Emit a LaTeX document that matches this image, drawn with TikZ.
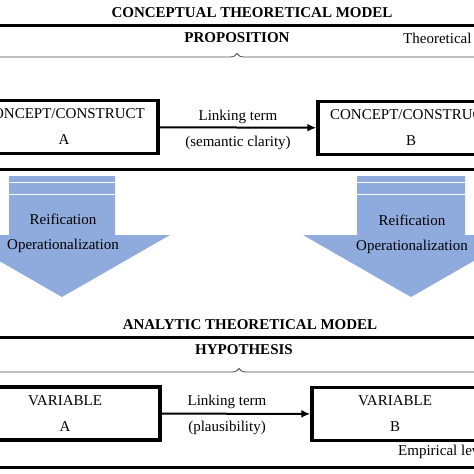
\documentclass[tikz,border=0pt]{standalone}
\usepackage{fontspec}
\setmainfont{Liberation Serif}
\usetikzlibrary{graphs}
\usetikzlibrary{arrows.meta}
\usetikzlibrary{decorations.pathreplacing}
\definecolor{arrowblue}{RGB}{143,170,220}

\begin{document}
\begin{tikzpicture}[x=1pt, y=-1pt,
            every node/.style={font=\fontsize{15}{26}\selectfont, align=center, inner sep=0pt},
            box/.style={draw, line width=3.4pt, minimum height=53},
            title/.style={font=\fontsize{15}{26}\selectfont\bfseries},
            rule/.style={line width=3pt},
            bracket/.style={line width=0.8pt, black!70, decorate, decoration={brace, amplitude=7pt}},
            stripe/.style={white, line width=0.9pt}]
            \useasboundingbox (0,0) rectangle (474,474);
            \clip (0,0) rectangle (474,474);

            % conceptual level
            \node[title] (ctitle) at (252,13) {CONCEPTUAL THEORETICAL MODEL};
            \draw[rule] (-5,25) -- (479,25);
            \node[title] (prop) at (237,38) {PROPOSITION};
            \node[anchor=west] (tlevel) at (403,38) {Theoretical level};
            \draw[bracket] (-10,60.5) -- (484,60.5);

            \node[box, minimum width=188] (ca) at (64,127) {CONCEPT/CONSTRUCT\\A};
            \node[box, minimum width=186] (cb) at (411,128) {CONCEPT/CONSTRUCT\\B};
            \node (clink) at (238,129.5) {Linking term\\(semantic clarity)};
            \draw[rule] (-5,169) -- (479,169);

            % block arrows
            \fill[arrowblue] (9,176) -- (115,176) -- (115,235) -- (170,235) -- (62,297) -- (-46,235) -- (9,235) -- cycle;
            \draw[stripe] (9,182) -- (115,182) (9,194) -- (115,194);
            \node (lreif) at (63,219) {Reification};
            \node (lop) at (63,246) {Operationalization};

            \fill[arrowblue] (357,176) -- (465,176) -- (465,235) -- (519,235) -- (411,297) -- (303,235) -- (357,235) -- cycle;
            \draw[stripe] (357,182) -- (465,182) (357,194) -- (465,194);
            \node (rreif) at (412,220) {Reification};
            \node (rop) at (412,247) {Operationalization};

            % analytic level
            \node[title] (atitle) at (250,325) {ANALYTIC THEORETICAL MODEL};
            \draw[rule] (-5,337) -- (479,337);
            \node[title] (hyp) at (244,350) {HYPOTHESIS};
            \draw[bracket] (-6,375.5) -- (484,375.5);

            \node[box, minimum width=190] (va) at (65,413.5) {VARIABLE\\A};
            \node[box, minimum width=166] (vb) at (395,414) {VARIABLE\\B};
            \node (vlink) at (227,415) {Linking term\\(plausibility)};
            \node[anchor=west] (elevel) at (398,452) {Empirical level};
            \draw[rule] (-5,467) -- (479,467);

            \graph[edges={-{Latex[length=9pt,width=8pt]}, line width=2pt}] {
                (ca) -> (cb);
                (va) -> (vb);
            };
        \end{tikzpicture}
\end{document}
